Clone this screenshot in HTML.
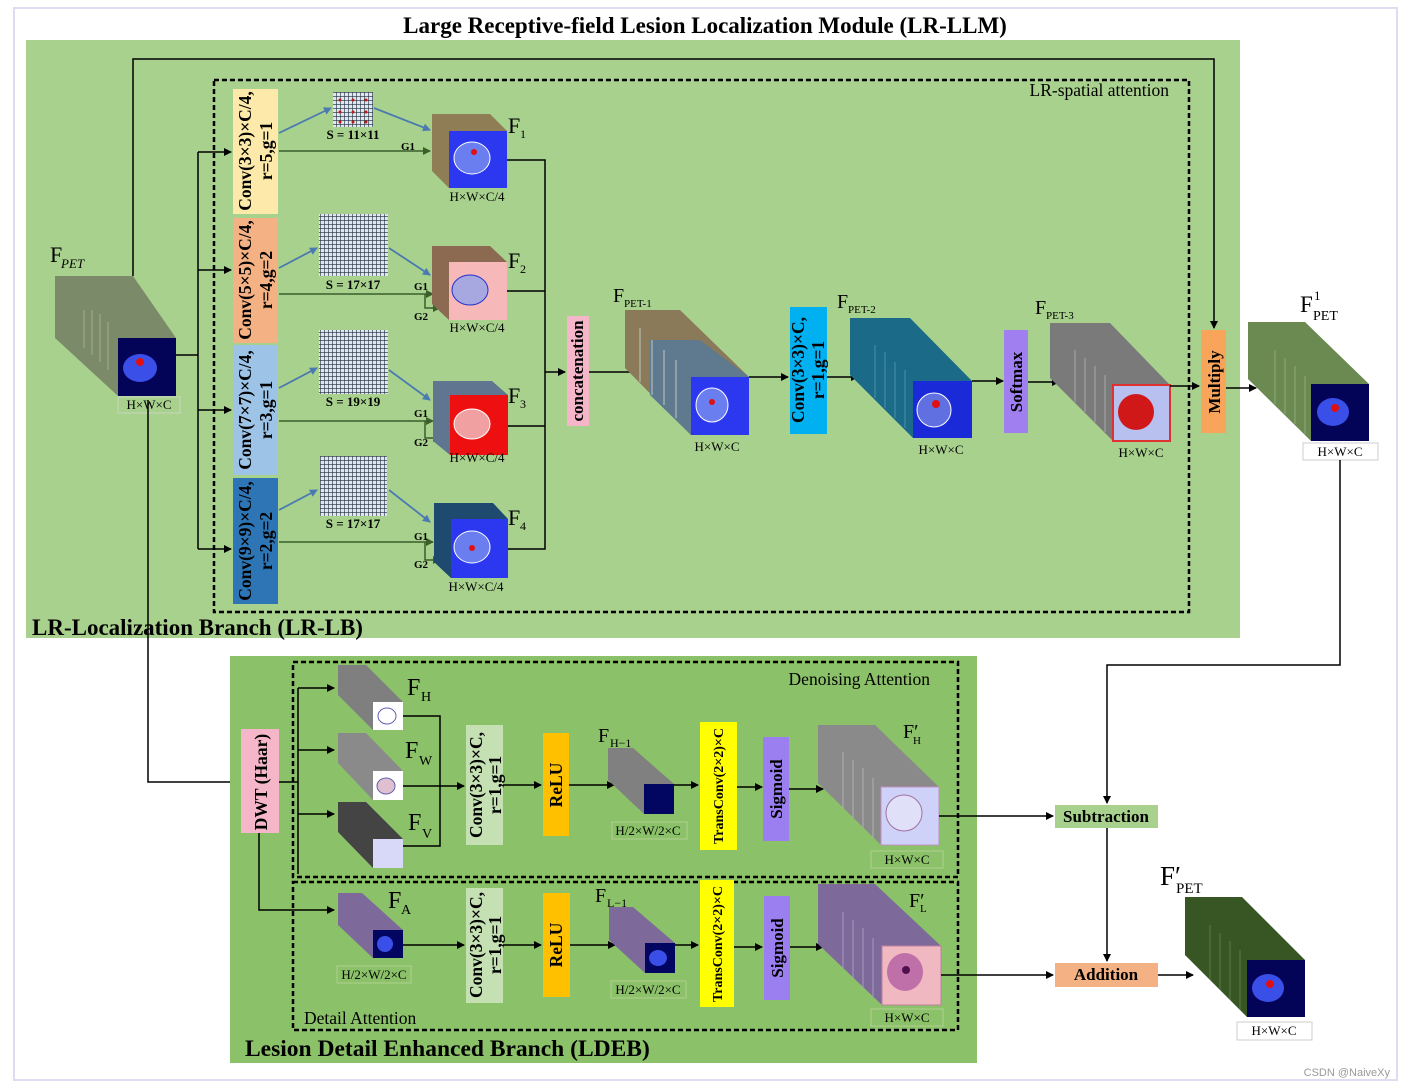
<!DOCTYPE html>
<html><head><meta charset="utf-8"><style>
html,body{margin:0;padding:0;background:#fff}
svg{display:block}
text{font-family:"Liberation Serif",serif}
</style></head><body>
<svg width="1405" height="1088" viewBox="0 0 1405 1088" xmlns="http://www.w3.org/2000/svg">
<defs>
<marker id="a" markerWidth="8" markerHeight="8" refX="7" refY="4" orient="auto" markerUnits="userSpaceOnUse"><path d="M0,0L8,4L0,8z" fill="#000"/></marker>
<marker id="ab" markerWidth="8" markerHeight="8" refX="7" refY="4" orient="auto" markerUnits="userSpaceOnUse"><path d="M0,0L8,4L0,8z" fill="#4a7ab0"/></marker>
<marker id="ag" markerWidth="8" markerHeight="8" refX="7" refY="4" orient="auto" markerUnits="userSpaceOnUse"><path d="M0,0L8,4L0,8z" fill="#3b5e2b"/></marker>
<pattern id="grid" width="4" height="4" patternUnits="userSpaceOnUse"><rect width="4" height="4" fill="#dfe6ef"/><path d="M0,0H4M0,0V4" stroke="#1c2a3a" stroke-width="1.2"/></pattern>
</defs>
<rect x="14" y="8" width="1383" height="1072" fill="#fff" stroke="#e0dcf0" stroke-width="2"/>
<text x="705" y="33" font-size="23" font-weight="bold" text-anchor="middle">Large Receptive-field Lesion Localization Module (LR-LLM)</text>
<!-- top panel -->
<rect x="26" y="40" width="1214" height="598" fill="#a9d18e"/>
<rect x="214" y="80" width="975" height="532" fill="none" stroke="#000" stroke-width="2.5" stroke-dasharray="5,3"/>
<text x="1169" y="96" font-size="17.5" text-anchor="end">LR-spatial attention</text>
<text x="32" y="635" font-size="23" font-weight="bold">LR-Localization Branch (LR-LB)</text>
<!-- FPET stack -->
<text x="50" y="262" font-size="22">F</text><text x="61" y="268" font-size="13" font-style="italic">PET</text>
<polygon points="55,276 133,276 176,338 176,396 118,396 55,338" fill="#7b8b6a"/>
<g stroke="#a0ae90" fill="none"><path d="M84,310V348M92,310V355M100,314V362M108,322V370"/></g>
<rect x="118" y="338" width="58" height="58" fill="#030458"/>
<ellipse cx="140" cy="368" rx="17" ry="14" fill="#3a4ee8"/><circle cx="140" cy="362" r="4" fill="#e01010"/>
<rect x="118" y="397" width="62" height="16" fill="none" stroke="#c8d8c0"/><text x="149" y="409" font-size="13" text-anchor="middle">H×W×C</text>
<!-- lines from FPET -->
<path d="M133,276V59H1214V328" fill="none" stroke="#000" stroke-width="1.5" marker-end="url(#a)"/>
<path d="M176,355H198M198,152V549" fill="none" stroke="#000" stroke-width="1.5"/>
<g stroke="#000" stroke-width="1.5" marker-end="url(#a)"><path d="M198,152H231"/><path d="M198,270H231"/><path d="M198,410H231"/><path d="M198,549H231"/></g>
<path d="M148,400V782H239" fill="none" stroke="#000" stroke-width="1.5" marker-end="url(#a)"/>
<!-- conv boxes -->
<rect x="233" y="89" width="45" height="125" fill="#fde9a9"/>
<rect x="233" y="218" width="45" height="125" fill="#f4b183"/>
<rect x="233" y="345" width="45" height="130" fill="#9dc3e6"/>
<rect x="233" y="478" width="45" height="126" fill="#2e75b6"/>
<g font-size="17.5" font-weight="bold" text-anchor="middle">
<text transform="translate(251,151) rotate(-90)">Conv(3×3)×C/4,</text><text transform="translate(272,151) rotate(-90)">r=5,g=1</text>
<text transform="translate(251,280) rotate(-90)">Conv(5×5)×C/4,</text><text transform="translate(272,280) rotate(-90)">r=4,g=2</text>
<text transform="translate(251,410) rotate(-90)">Conv(7×7)×C/4,</text><text transform="translate(272,410) rotate(-90)">r=3,g=1</text>
<text transform="translate(251,541) rotate(-90)">Conv(9×9)×C/4,</text><text transform="translate(272,541) rotate(-90)">r=2,g=2</text>
</g>
<!-- grids -->
<rect x="333" y="92" width="40" height="35" fill="url(#grid)"/>
<rect x="319" y="214" width="69" height="62" fill="url(#grid)"/>
<rect x="319" y="330" width="69" height="64" fill="url(#grid)"/>
<rect x="320" y="456" width="67" height="60" fill="url(#grid)"/>
<g fill="#c01818">
<circle cx="340" cy="100" r="1.5"/><circle cx="353" cy="100" r="1.5"/><circle cx="366" cy="100" r="1.5"/><circle cx="340" cy="112" r="1.5"/><circle cx="353" cy="112" r="1.5"/><circle cx="366" cy="112" r="1.5"/><circle cx="340" cy="122" r="1.5"/><circle cx="353" cy="122" r="1.5"/><circle cx="366" cy="122" r="1.5"/>
</g>
<g font-size="13" font-weight="bold" text-anchor="middle">
<text x="353" y="139">S = 11×11</text><text x="353" y="289">S = 17×17</text><text x="353" y="406">S = 19×19</text><text x="353" y="528">S = 17×17</text>
</g>
<g stroke="#4a7ab0" stroke-width="1.8" marker-end="url(#ab)">
<path d="M279,133L331,108"/><path d="M374,108L430,130"/>
<path d="M279,268L317,248"/><path d="M389,248L430,275"/>
<path d="M279,388L317,368"/><path d="M389,370L430,400"/>
<path d="M279,510L317,490"/><path d="M389,490L430,522"/>
</g>
<g stroke="#3b5e2b" stroke-width="1.5" fill="none">
<path d="M279,151H430" marker-end="url(#ag)"/>
<path d="M279,294H433" marker-end="url(#ag)"/><path d="M425,294V308H440" marker-end="url(#ag)"/>
<path d="M279,421H433" marker-end="url(#ag)"/><path d="M425,421V438H440" marker-end="url(#ag)"/>
<path d="M279,542H433" marker-end="url(#ag)"/><path d="M425,542V560H440" marker-end="url(#ag)"/>
</g>
<g font-size="11" font-weight="bold"><text x="401" y="150">G1</text><text x="414" y="290">G1</text><text x="414" y="320">G2</text><text x="414" y="417">G1</text><text x="414" y="446">G2</text><text x="414" y="540">G1</text><text x="414" y="568">G2</text></g>
<!-- F1-F4 -->
<polygon points="432,114 490,114 507,131 507,188 449,188 432,171" fill="#8e7d55"/>
<rect x="449" y="131" width="58" height="57" fill="#2c37f0"/><ellipse cx="472" cy="158" rx="18" ry="16" fill="#6a7ef0" stroke="#fff"/><circle cx="474" cy="152" r="3" fill="#e01010"/>
<polygon points="432,246 490,246 507,262 507,320 449,320 432,304" fill="#8c6a52"/>
<rect x="449" y="262" width="58" height="58" fill="#f6b8b8"/><ellipse cx="470" cy="290" rx="18" ry="15" fill="#a8a8e0" stroke="#2030d0"/>
<polygon points="433,381 492,381 508,395 508,455 450,455 433,441" fill="#5f7590"/>
<rect x="450" y="395" width="58" height="60" fill="#ee1010"/><ellipse cx="472" cy="424" rx="18" ry="15" fill="#f0a0a0" stroke="#fff"/>
<polygon points="434,503 493,503 508,519 508,578 451,578 434,562" fill="#1e4a70"/>
<rect x="451" y="519" width="57" height="59" fill="#2c37f0"/><ellipse cx="472" cy="547" rx="18" ry="16" fill="#6a7ef0" stroke="#fff"/><circle cx="472" cy="548" r="3" fill="#e01010"/>
<g font-size="22"><text x="508" y="133">F</text><text x="508" y="268">F</text><text x="508" y="403">F</text><text x="508" y="525">F</text></g>
<g font-size="12"><text x="520" y="138">1</text><text x="520" y="273">2</text><text x="520" y="408">3</text><text x="520" y="530">4</text></g>
<g font-size="13" text-anchor="middle" ><text x="477" y="201">H×W×C/4</text><text x="477" y="332">H×W×C/4</text><text x="477" y="462">H×W×C/4</text><text x="476" y="591">H×W×C/4</text></g>
<path d="M507,160H545V549H508M507,291H545M508,426H545" fill="none" stroke="#000" stroke-width="1.5"/>
<path d="M545,372H565" stroke="#000" stroke-width="1.5" marker-end="url(#a)"/>
<rect x="567" y="316" width="22" height="110" fill="#f4b6c8"/>
<text transform="translate(583,371) rotate(-90)" font-size="17" font-weight="bold" text-anchor="middle">concatenation</text>
<path d="M589,372H643" stroke="#000" stroke-width="1.5" marker-end="url(#a)"/>
<!-- FPET-1 -->
<text x="613" y="302" font-size="20">F</text><text x="624" y="307" font-size="11">PET-1</text>
<polygon points="625,310 680,310 749,377 749,435 691,435 625,368" fill="#8a7a5a"/>
<polygon points="650,340 700,340 749,377 749,435 691,435 650,395" fill="#5f7a8f"/>
<g stroke="#c0c8c0" fill="none"><path d="M640,328V382M652,340V395M664,350V405M676,360V418"/></g>
<rect x="691" y="377" width="58" height="58" fill="#2c37f0"/><ellipse cx="712" cy="405" rx="16" ry="17" fill="#6a7ef0" stroke="#fff"/><circle cx="712" cy="402" r="3" fill="#e01010"/>
<text x="717" y="451" font-size="13" text-anchor="middle">H×W×C</text>
<path d="M749,377H788" stroke="#000" stroke-width="1.5" marker-end="url(#a)"/>
<rect x="790" y="307" width="37" height="127" fill="#00b0f0"/>
<text transform="translate(804,370) rotate(-90)" font-size="17.5" font-weight="bold" text-anchor="middle">Conv(3×3)×C,</text>
<text transform="translate(824,370) rotate(-90)" font-size="17.5" font-weight="bold" text-anchor="middle">r=1,g=1</text>
<path d="M827,377H858" stroke="#000" stroke-width="1.5" marker-end="url(#a)"/>
<!-- FPET-2 -->
<text x="837" y="308" font-size="20">F</text><text x="848" y="313" font-size="11">PET-2</text>
<polygon points="850,318 910,318 972,381 972,438 913,438 850,375" fill="#1b6a88"/>
<g stroke="#4a90aa" fill="none"><path d="M875,345V398M885,352V408M895,362V418M905,370V428"/></g>
<rect x="913" y="381" width="59" height="57" fill="#1a2ad8"/><ellipse cx="934" cy="410" rx="17" ry="17" fill="#6070e0" stroke="#fff"/><circle cx="936" cy="404" r="4" fill="#e01010"/>
<text x="941" y="454" font-size="13" text-anchor="middle">H×W×C</text>
<path d="M972,381H1003" stroke="#000" stroke-width="1.5" marker-end="url(#a)"/>
<rect x="1004" y="330" width="24" height="103" fill="#a07ff0"/>
<text transform="translate(1022,382) rotate(-90)" font-size="17" font-weight="bold" text-anchor="middle">Softmax</text>
<path d="M1028,382H1059" stroke="#000" stroke-width="1.5" marker-end="url(#a)"/>
<!-- FPET-3 -->
<text x="1035" y="314" font-size="20">F</text><text x="1046" y="319" font-size="11">PET-3</text>
<polygon points="1050,323 1110,323 1170,385 1170,441 1113,441 1050,378" fill="#7a7a7a"/>
<g stroke="#a8a8a8" fill="none"><path d="M1075,350V402M1085,358V412M1095,366V422M1105,375V432"/></g>
<rect x="1113" y="385" width="57" height="56" fill="#b8c0f0" stroke="#e03030" stroke-width="2"/><ellipse cx="1136" cy="412" rx="18" ry="18" fill="#d01818"/>
<text x="1141" y="457" font-size="13" text-anchor="middle">H×W×C</text>
<path d="M1170,386H1199" stroke="#000" stroke-width="1.5" marker-end="url(#a)"/>
<rect x="1201" y="330" width="25" height="103" fill="#f8a45a"/>
<text transform="translate(1220,382) rotate(-90)" font-size="17" font-weight="bold" text-anchor="middle">Multiply</text>
<path d="M1226,388H1256" stroke="#000" stroke-width="1.5" marker-end="url(#a)"/>
<!-- FPET1 -->
<text x="1300" y="312" font-size="23">F</text><text x="1314" y="300" font-size="13">1</text><text x="1313" y="320" font-size="14">PET</text>
<polygon points="1248,322 1305,322 1369,384 1369,441 1311,441 1248,379" fill="#6a8a52"/>
<g stroke="#90a878" fill="none"><path d="M1275,350V404M1285,358V414M1295,366V424M1305,376V434"/></g>
<rect x="1311" y="384" width="58" height="57" fill="#030458"/><ellipse cx="1333" cy="412" rx="16" ry="14" fill="#3a4ee8"/><circle cx="1335" cy="408" r="4" fill="#e01010"/>
<rect x="1303" y="443" width="75" height="17" fill="#fff" stroke="#ccc"/><text x="1340" y="456" font-size="13" text-anchor="middle">H×W×C</text>
<path d="M1340,460V665H1107V803" fill="none" stroke="#000" stroke-width="1.5" marker-end="url(#a)"/>
<!-- bottom panel -->
<rect x="230" y="656" width="747" height="407" fill="#8bc168"/>
<rect x="293" y="662" width="665" height="215" fill="none" stroke="#000" stroke-width="2.5" stroke-dasharray="5,3"/>
<rect x="293" y="882" width="665" height="148" fill="none" stroke="#000" stroke-width="2.5" stroke-dasharray="5,3"/>
<text x="930" y="685" font-size="17.5" text-anchor="end">Denoising Attention</text>
<text x="304" y="1024" font-size="17.5">Detail Attention</text>
<text x="245" y="1056" font-size="23.5" font-weight="bold">Lesion Detail Enhanced Branch (LDEB)</text>
<rect x="241" y="729" width="38" height="104" fill="#f4b6c8"/>
<text transform="translate(267,782) rotate(-90)" font-size="17.5" font-weight="bold" text-anchor="middle">DWT (Haar)</text>
<path d="M279,782H298M298,688V874" fill="none" stroke="#000" stroke-width="1.5"/>
<g stroke="#000" stroke-width="1.5" marker-end="url(#a)"><path d="M298,688H334"/><path d="M298,750H334"/><path d="M298,814H334"/></g>
<path d="M259,833V910H334" fill="none" stroke="#000" stroke-width="1.5" marker-end="url(#a)"/>
<!-- FH FW FV -->
<polygon points="338,665 366,665 403,702 403,730 373,730 338,695" fill="#7f7f7f"/><rect x="373" y="702" width="30" height="28" fill="#fff"/><ellipse cx="387" cy="716" rx="9" ry="8" fill="none" stroke="#6060b0"/>
<polygon points="338,733 366,733 403,771 403,800 373,800 338,763" fill="#8a8a8a"/><rect x="373" y="771" width="30" height="29" fill="#fff"/><ellipse cx="386" cy="786" rx="9" ry="8" fill="#e0c0d0" stroke="#6060b0"/>
<polygon points="338,802 366,802 403,839 403,868 373,868 338,832" fill="#444"/><rect x="373" y="839" width="30" height="29" fill="#d8d8f8"/>
<g font-size="24"><text x="407" y="695">F</text><text x="405" y="758">F</text><text x="408" y="830">F</text></g>
<g font-size="14"><text x="421" y="701">H</text><text x="419" y="765">W</text><text x="422" y="838">V</text></g>
<path d="M403,716H440V846H403M403,786H464" fill="none" stroke="#000" stroke-width="1.5" marker-end="url(#a)"/>
<!-- Conv light green -->
<rect x="466" y="725" width="37" height="120" fill="#c5e0b3"/>
<rect x="466" y="888" width="37" height="115" fill="#c5e0b3"/>
<g font-size="17.5" font-weight="bold" text-anchor="middle">
<text transform="translate(482,785) rotate(-90)">Conv(3×3)×C,</text><text transform="translate(501,785) rotate(-90)">r=1,g=1</text>
<text transform="translate(482,945) rotate(-90)">Conv(3×3)×C,</text><text transform="translate(501,945) rotate(-90)">r=1,g=1</text>
</g>
<rect x="543" y="733" width="26" height="103" fill="#ffc000"/><rect x="543" y="893" width="27" height="104" fill="#ffc000"/>
<g font-size="17.5" font-weight="bold" text-anchor="middle"><text transform="translate(562,785) rotate(-90)">ReLU</text><text transform="translate(562,945) rotate(-90)">ReLU</text></g>
<g stroke="#000" stroke-width="1.5" marker-end="url(#a)"><path d="M503,785H541"/><path d="M569,785H614"/><path d="M403,945H464"/><path d="M503,945H541"/><path d="M570,945H615"/></g>
<polygon points="608,748 633,748 674,784 674,814 644,814 608,780" fill="#808080"/><rect x="644" y="784" width="30" height="30" fill="#020660"/>
<polygon points="609,907 633,907 675,943 675,973 645,973 609,940" fill="#7d6a9a"/><rect x="645" y="943" width="30" height="30" fill="#020660"/><ellipse cx="658" cy="958" rx="9" ry="8" fill="#3a4ee8"/>
<text x="598" y="742" font-size="20">F</text><text x="610" y="747" font-size="12">H−1</text>
<text x="595" y="902" font-size="20">F</text><text x="607" y="907" font-size="12">L−1</text>
<rect x="612" y="822" width="75" height="17" fill="none" stroke="#b0d090"/><text x="648" y="835" font-size="13" text-anchor="middle">H/2×W/2×C</text>
<rect x="611" y="981" width="75" height="17" fill="none" stroke="#b0d090"/><text x="648" y="994" font-size="13" text-anchor="middle">H/2×W/2×C</text>
<rect x="337" y="966" width="74" height="17" fill="none" stroke="#b0d090"/><text x="374" y="979" font-size="13" text-anchor="middle">H/2×W/2×C</text>
<!-- FA -->
<polygon points="338,893 362,893 403,930 403,958 373,958 338,925" fill="#7d6a9a"/><rect x="373" y="930" width="30" height="28" fill="#020660"/><ellipse cx="385" cy="944" rx="8" ry="8" fill="#3a4ee8"/>
<text x="388" y="908" font-size="24">F</text><text x="401" y="914" font-size="14">A</text>
<g stroke="#000" stroke-width="1.5" marker-end="url(#a)"><path d="M674,785H698"/><path d="M675,945H698"/><path d="M737,787H762"/><path d="M732,947H762"/><path d="M789,789H823"/><path d="M790,947H823"/></g>
<rect x="700" y="722" width="37" height="128" fill="#ffff00"/><rect x="700" y="880" width="34" height="127" fill="#ffff00"/>
<g font-size="14" font-weight="bold" text-anchor="middle"><text transform="translate(723,786) rotate(-90)">TransConv(2×2)×C</text><text transform="translate(722,944) rotate(-90)">TransConv(2×2)×C</text></g>
<rect x="763" y="737" width="26" height="104" fill="#9b7ff0"/><rect x="764" y="896" width="26" height="104" fill="#9b7ff0"/>
<g font-size="17" font-weight="bold" text-anchor="middle"><text transform="translate(782,789) rotate(-90)">Sigmoid</text><text transform="translate(783,948) rotate(-90)">Sigmoid</text></g>
<!-- F'H F'L -->
<polygon points="818,725 875,725 939,787 939,845 881,845 818,783" fill="#8a8a8a"/>
<g stroke="#b0b0b0" fill="none"><path d="M843,752V808M853,760V818M863,768V828M873,778V838"/></g>
<rect x="881" y="787" width="58" height="58" fill="#cfd2f8" stroke="#c090c0"/><ellipse cx="904" cy="813" rx="18" ry="18" fill="#e0e0f8" stroke="#a070a0"/>
<polygon points="818,884 875,884 941,946 941,1005 882,1005 818,944" fill="#7d6a9a"/>
<g stroke="#a898c0" fill="none"><path d="M843,912V968M853,920V978M863,928V988M873,938V998"/></g>
<rect x="882" y="946" width="59" height="59" fill="#f0b8c0" stroke="#c080a0"/><ellipse cx="905" cy="972" rx="18" ry="19" fill="#c070a8"/><circle cx="906" cy="970" r="4" fill="#501050"/>
<text x="903" y="738" font-size="20">F′</text><text x="913" y="744" font-size="11">H</text>
<text x="909" y="907" font-size="20">F′</text><text x="920" y="912" font-size="11">L</text>
<rect x="871" y="851" width="72" height="17" fill="none" stroke="#b0d090"/><text x="907" y="864" font-size="13" text-anchor="middle">H×W×C</text>
<rect x="871" y="1009" width="72" height="17" fill="none" stroke="#b0d090"/><text x="907" y="1022" font-size="13" text-anchor="middle">H×W×C</text>
<path d="M939,816H1053" stroke="#000" stroke-width="1.5" marker-end="url(#a)"/>
<path d="M941,975H1053" stroke="#000" stroke-width="1.5" marker-end="url(#a)"/>
<rect x="1055" y="805" width="103" height="23" fill="#a9d18e"/><text x="1106" y="822" font-size="17" font-weight="bold" text-anchor="middle">Subtraction</text>
<path d="M1107,828V961" stroke="#000" stroke-width="1.5" marker-end="url(#a)"/>
<rect x="1055" y="963" width="103" height="24" fill="#f4b183"/><text x="1106" y="980" font-size="17" font-weight="bold" text-anchor="middle">Addition</text>
<path d="M1158,975H1193" stroke="#000" stroke-width="1.5" marker-end="url(#a)"/>
<!-- F'PET -->
<text x="1160" y="885" font-size="27">F′</text><text x="1176" y="893" font-size="15">PET</text>
<polygon points="1185,897 1242,897 1305,960 1305,1017 1247,1017 1185,955" fill="#375623"/>
<g stroke="#5a7a48" fill="none"><path d="M1210,925V980M1220,933V990M1230,941V1000M1240,950V1010"/></g>
<rect x="1247" y="960" width="58" height="57" fill="#030458"/><ellipse cx="1268" cy="988" rx="16" ry="14" fill="#3a4ee8"/><circle cx="1270" cy="984" r="4" fill="#e01010"/>
<rect x="1237" y="1022" width="75" height="18" fill="#fff" stroke="#ccc"/><text x="1274" y="1035" font-size="13" text-anchor="middle">H×W×C</text>
<text x="1390" y="1076" font-size="11" fill="#999" text-anchor="end" style="font-family:'Liberation Sans',sans-serif">CSDN @NaiveXy</text>
</svg>
</body></html>
